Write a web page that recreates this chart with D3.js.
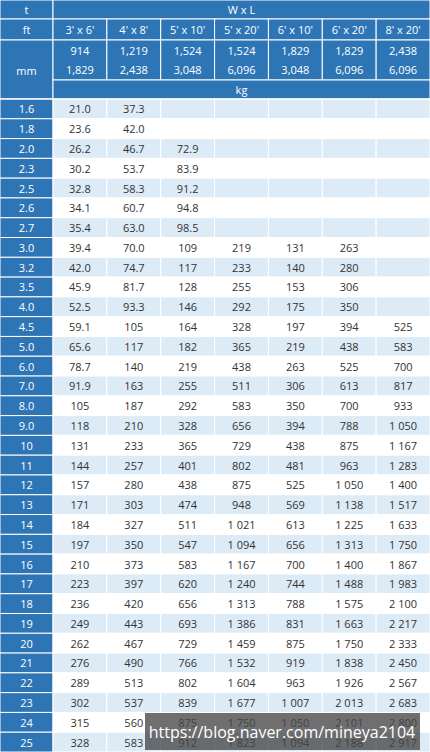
<!DOCTYPE html><html><head><meta charset="utf-8"><script src="https://cdn.jsdelivr.net/npm/d3@7"></script>
<style>body{margin:0;background:#fff}svg{display:block;font-family:"Open Sans","Noto Sans",sans-serif}</style></head><body><svg id="c" width="430" height="752"></svg><script>
const sizesFt=["3' x 6'","4' x 8'","5' x 10'","5' x 20'","6' x 10'","6' x 20'","8' x 20'"];
const widthsMm=[914,1219,1524,1524,1829,1829,2438];
const lengthsMm=[1829,2438,3048,6096,3048,6096,6096];
const thickness=["1.6","1.8","2.0","2.3","2.5","2.6","2.7","3.0","3.2","3.5","4.0","4.5","5.0","6.0","7.0","8.0","9.0","10","11","12","13","14","15","16","17","18","19","20","21","22","23","24","25"];
const weights=[
[21.0,37.3],[23.6,42.0],[26.2,46.7,72.9],[30.2,53.7,83.9],[32.8,58.3,91.2],[34.1,60.7,94.8],[35.4,63.0,98.5],
[39.4,70.0,109,219,131,263],[42.0,74.7,117,233,140,280],[45.9,81.7,128,255,153,306],[52.5,93.3,146,292,175,350],
[59.1,105,164,328,197,394,525],[65.6,117,182,365,219,438,583],[78.7,140,219,438,263,525,700],[91.9,163,255,511,306,613,817],
[105,187,292,583,350,700,933],[118,210,328,656,394,788,1050],[131,233,365,729,438,875,1167],[144,257,401,802,481,963,1283],
[157,280,438,875,525,1050,1400],[171,303,474,948,569,1138,1517],[184,327,511,1021,613,1225,1633],[197,350,547,1094,656,1313,1750],
[210,373,583,1167,700,1400,1867],[223,397,620,1240,744,1488,1983],[236,420,656,1313,788,1575,2100],[249,443,693,1386,831,1663,2217],
[262,467,729,1459,875,1750,2333],[276,490,766,1532,919,1838,2450],[289,513,802,1604,963,1926,2567],[302,537,839,1677,1007,2013,2683],
[315,560,875,1750,1050,2101,2800],[328,583,912,1823,1094,2188,2917]];
const blue="#2e75b6",stripe="#ddebf7";
const svg=d3.select("#c");
const x=d3.scaleBand().domain(d3.range(7)).range([53,430]);
const y=d3.scaleBand().domain(thickness).range([99,752]);
const fmt=v=>v<100?v.toFixed(1):d3.format(",")(v).replace(/,/g," ");
const fmtC=d3.format(",");
function cell(x0,y0,w,h,fill){svg.append("rect").attr("x",x0).attr("y",y0).attr("width",w).attr("height",h).attr("fill",fill).attr("stroke","#fff").attr("stroke-width",1);}
function txt(cx,cy,t,col){svg.append("text").attr("x",cx).attr("y",cy).attr("text-anchor","middle").attr("dominant-baseline","central").attr("font-size",11).attr("fill",col).text(t);}
// header
cell(0,0,53,19,blue);txt(26.5,9.5,"t","#fff");
cell(53,0,377,19,blue);txt(241.5,9.5,"W x L","#fff");
cell(0,19,53,21,blue);txt(26.5,29.5,"ft","#fff");
cell(0,40,53,59,blue);txt(26.5,70,"mm","#fff");
sizesFt.forEach((s,i)=>{cell(x(i),19,x.bandwidth(),21,blue);txt(x(i)+x.bandwidth()/2,29.5,s,"#fff");
 cell(x(i),40,x.bandwidth(),40,blue);txt(x(i)+x.bandwidth()/2,50,fmtC(widthsMm[i]),"#fff");txt(x(i)+x.bandwidth()/2,69.5,fmtC(lengthsMm[i]),"#fff");});
cell(53,80,377,19,blue);txt(241.5,89.5,"kg","#fff");
thickness.forEach((t,r)=>{const y0=y(t),h=y.bandwidth();
 cell(0,y0,53,h,blue);txt(26.5,y0+h/2,t,"#fff");
 d3.range(7).forEach(i=>{cell(x(i),y0,x.bandwidth(),h,r%2?"#fff":stripe);
  const v=weights[r][i];if(v!=null)txt(x(i)+x.bandwidth()/2,y0+h/2,fmt(v),"#333");});
});
svg.append("line").attr("x1",0).attr("x2",430).attr("y1",99).attr("y2",99).attr("stroke","#fff");
svg.append("rect").attr("x",145).attr("y",713).attr("width",275).attr("height",37).attr("fill","rgba(70,70,70,0.78)");
svg.append("text").attr("x",282).attr("y",732).attr("text-anchor","middle").attr("dominant-baseline","central").attr("font-size",16).attr("fill","#fff").text("https://blog.naver.com/mineya2104");
</script></body></html>
